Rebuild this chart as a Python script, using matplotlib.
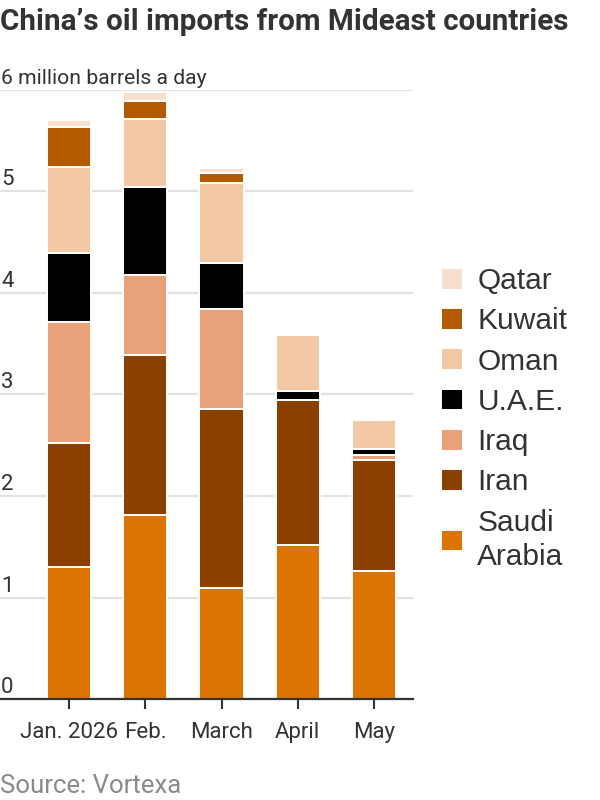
import matplotlib
matplotlib.use("Agg")
import matplotlib.pyplot as plt
from matplotlib import font_manager
import numpy as np

months = ["Jan. 2026", "Feb.", "March", "April", "May"]
countries = ["Saudi\nArabia", "Iran", "Iraq", "U.A.E.", "Oman", "Kuwait", "Qatar"]
saudi = [1.30, 1.81, 1.09, 1.52, 1.26]
iran = [1.22, 1.58, 1.77, 1.42, 1.09]
iraq = [1.19, 0.79, 0.98, 0.00, 0.05]
uae = [0.68, 0.86, 0.45, 0.09, 0.06]
oman = [0.85, 0.67, 0.79, 0.55, 0.29]
kuwait = [0.39, 0.18, 0.10, 0.00, 0.00]
qatar = [0.07, 0.09, 0.05, 0.00, 0.00]
series = [saudi, iran, iraq, uae, oman, kuwait, qatar]
colors = ["#db7400", "#8a4100", "#e8a178", "#000000", "#f3c8a4", "#b35a00", "#f7dfcd"]
y_ticks = [0, 1, 2, 3, 4, 5, 6]


def pick_font(options):
    names = {f.name for f in font_manager.fontManager.ttflist}
    for name in options:
        if name in names:
            return name
    return "DejaVu Sans"


narrow = pick_font(["Liberation Sans Narrow", "Roboto", "DejaVu Sans"])
wide = pick_font(["Liberation Sans", "Roboto", "DejaVu Sans"])
text_color = "#333333"

fig = plt.figure(figsize=(6, 8), dpi=100)
ax = fig.add_axes([0, 0.126, 0.688, 0.762])

x = np.arange(len(months))
bottom = np.zeros(len(months))
handles = []
for vals, color, label in zip(series, colors, countries):
    bars = ax.bar(x, vals, width=0.58, bottom=bottom, color=color,
                  edgecolor="white", linewidth=1.4, label=label, zorder=3)
    handles.append(bars)
    bottom += np.array(vals)

ax.set_xlim(-0.908, 4.51)
ax.set_ylim(0, 6)
ax.set_yticks(y_ticks)
ax.yaxis.grid(True, color="#e2e2e2", linewidth=1.6, zorder=0)
ax.tick_params(axis="y", length=0, labelleft=False)
for v in y_ticks:
    label = "6 million barrels a day" if v == 6 else str(v)
    size = 15.2 if v == 6 else 16
    ax.text(0.003, v + 0.06, label, transform=ax.get_yaxis_transform(),
            ha="left", va="baseline", fontsize=size, color=text_color, family=narrow)

ax.set_xticks(x)
ax.set_xticklabels(months, fontsize=16, color=text_color, family=narrow)
ax.tick_params(axis="x", length=7, width=1.5, color=text_color, pad=9.5)
for side in ["top", "right", "left"]:
    ax.spines[side].set_visible(False)
ax.spines["bottom"].set_color(text_color)
ax.spines["bottom"].set_linewidth(1.6)
ax.spines["bottom"].set_zorder(4)

fig.text(0.0, 0.99, "China\u2019s oil imports from Mideast countries", ha="left", va="top",
         fontsize=21.3, fontweight="bold", color=text_color, family=narrow)
fig.text(0.0, 0.009, "Source: Vortexa", ha="left", va="baseline",
         fontsize=18.5, color="#8a8a8a", family=narrow)

leg = fig.legend(handles[::-1], countries[::-1], loc="upper left", bbox_to_anchor=(0.715, 0.681),
                 frameon=False, handlelength=0.75, handleheight=0.75,
                 handletextpad=0.47, labelspacing=0.41, borderaxespad=0,
                 prop={"family": wide, "size": 21.5}, labelcolor=text_color)
for t in leg.get_texts():
    t.set_linespacing(1.3)

fig.savefig("out.png", dpi=100)
